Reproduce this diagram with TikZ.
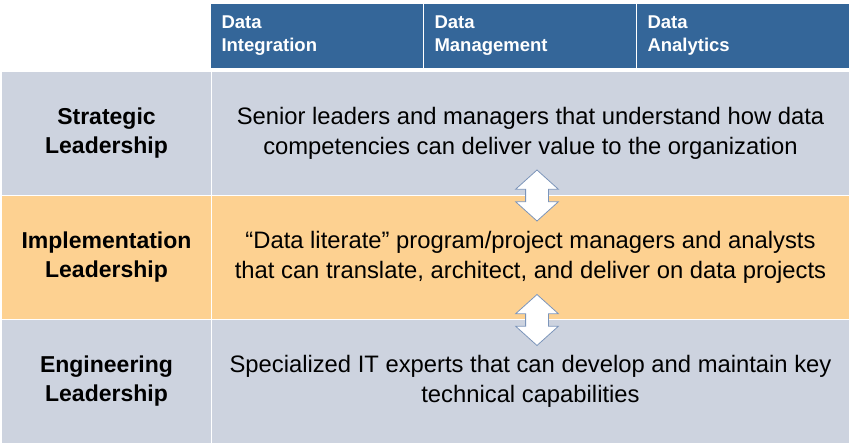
\documentclass[tikz,border=0pt]{standalone}
\usepackage{fontspec}
\setmainfont{Liberation Sans}
\usetikzlibrary{shapes.arrows}

\definecolor{hdrblue}{RGB}{52,102,153}
\definecolor{rowgray}{RGB}{205,211,223}
\definecolor{roworange}{RGB}{253,209,145}
\definecolor{arrowline}{RGB}{124,149,186}

\tikzset{
  hdr/.style={anchor=north west,fill=hdrblue,draw=white,line width=1pt,
    minimum width=213pt,minimum height=65pt,inner sep=0pt,text=white,
    align=left,text width=191pt,font=\bfseries\fontsize{18.5}{23}\selectfont},
  lbl/.style={anchor=north west,fill=#1,draw=white,line width=1pt,
    minimum width=210pt,minimum height=124pt,inner sep=0pt,align=center,
    font=\bfseries\fontsize{23}{29}\selectfont},
  desc/.style={anchor=north west,fill=#1,draw=white,line width=1pt,
    minimum width=638pt,minimum height=124pt,inner sep=0pt,align=center,
    font=\fontsize{23.8}{30}\selectfont},
  updown/.style={double arrow,rotate=90,fill=white,draw=arrowline,line width=0.8pt,
    minimum height=51pt,minimum width=42pt,inner sep=11pt,
    double arrow head extend=10pt,double arrow tip angle=96}
}

\begin{document}
\begin{tikzpicture}[x=1pt,y=-1pt]
  \useasboundingbox (0,0) rectangle (852,446);
  % column heads
  \foreach \x/\name/\txt in {210/hdrint/Integration,423/hdrmgmt/Management,636/hdrana/Analytics}
  \node[hdr] (\name) at (\x,3) {Data\\\txt};
  % rows
  \node[lbl=rowgray] (strat) at (1,71) {Strategic\\Leadership};
  \node[desc=rowgray] (stratdesc) at (211,71) {Senior leaders and managers that understand how data\\competencies can deliver value to the organization};
  \node[lbl=roworange] (impl) at (1,195) {Implementation\\Leadership};
  \node[desc=roworange] (impldesc) at (211,195) {\char"201C Data literate\char"201D{} program/project managers and analysts\\that can translate, architect, and deliver on data projects};
  \node[lbl=rowgray] (eng) at (1,319) {Engineering\\Leadership};
  \node[desc=rowgray] (engdesc) at (211,319) {Specialized IT experts that can develop and maintain key\\technical capabilities};
  % arrows between rows
  \node[updown] (updown1) at (537,195.5) {};
  \node[updown] (updown2) at (537,320) {};
\end{tikzpicture}
\end{document}
